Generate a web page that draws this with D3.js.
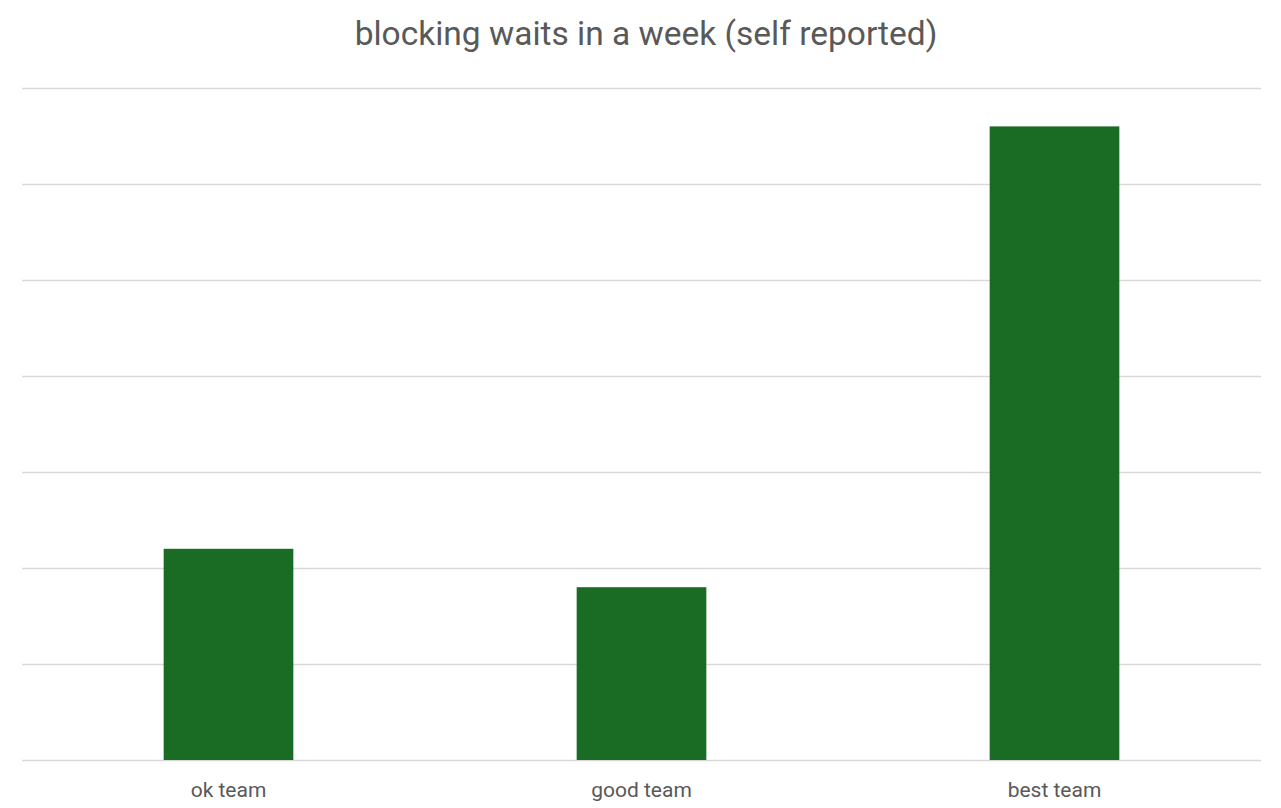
<!DOCTYPE html>
<html>
<head>
<meta charset="utf-8">
<script src="https://cdn.jsdelivr.net/npm/d3@7"></script>
<style>
  html, body { margin: 0; padding: 0; background: #fff; }
  svg { display: block; }
</style>
</head>
<body>
<svg id="chart" width="1281" height="808"></svg>
<script>
const title = "blocking waits in a week (self reported)";
const categories = ["ok team", "good team", "best team"];
const values = [2.2, 1.8, 6.6];
const yTicks = [0, 1, 2, 3, 4, 5, 6, 7];

const W = 1281, H = 808;
const margin = { left: 22, right: 20, top: 88, bottom: 48 };
const svg = d3.select("#chart");
const font = "Roboto, 'Noto Sans', sans-serif";

const x = d3.scaleBand()
  .domain(categories)
  .range([margin.left, W - margin.right])
  .paddingInner(0.686)
  .paddingOuter(0.343);

const y = d3.scaleLinear()
  .domain([0, 7])
  .range([H - margin.bottom, margin.top]);

// gridlines
svg.append("g")
  .selectAll("line")
  .data(yTicks)
  .join("line")
  .attr("x1", margin.left)
  .attr("x2", W - margin.right)
  .attr("y1", d => Math.round(y(d)) + 0.5)
  .attr("y2", d => Math.round(y(d)) + 0.5)
  .attr("stroke", "#d9d9d9")
  .attr("stroke-width", 1.5);

// bars
svg.append("g")
  .selectAll("rect")
  .data(values)
  .join("rect")
  .attr("x", (d, i) => x(categories[i]))
  .attr("width", x.bandwidth())
  .attr("y", d => y(d))
  .attr("height", d => y(0) - y(d))
  .attr("fill", "#1a6b23");

// x axis labels
const xAxis = d3.axisBottom(x).tickSize(0).tickPadding(0);
const gx = svg.append("g")
  .attr("transform", `translate(0,${H - margin.bottom})`)
  .call(xAxis);
gx.select(".domain").remove();
gx.selectAll("text")
  .attr("y", 37)
  .attr("dy", 0)
  .attr("fill", "#595959")
  .style("font-family", font)
  .style("font-size", "21px");

// title
svg.append("text")
  .attr("x", 646)
  .attr("y", 45)
  .attr("text-anchor", "middle")
  .attr("fill", "#595959")
  .style("font-family", font)
  .style("font-size", "33.5px")
  .text(title);
</script>
</body>
</html>
